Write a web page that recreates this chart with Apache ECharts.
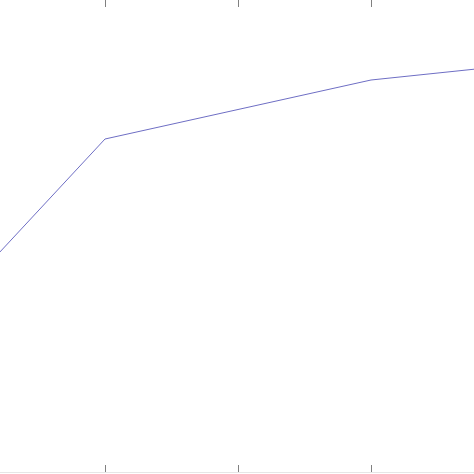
<!DOCTYPE html>
<html>
<head>
<meta charset="utf-8">
<style>html,body{margin:0;padding:0;background:#fff;}#c{width:474px;height:474px;}</style>
<script src="https://cdn.jsdelivr.net/npm/echarts@6/dist/echarts.min.js"></script>
</head>
<body>
<div id="c"></div>
<script>
var xValues = [0, 1, 2, 3, 4];
var yValues = [0.4025, 0.7055, 0.768, 0.8305, 0.860];
var tickValues = [1, 2, 3];
var chart = echarts.init(document.getElementById('c'), null, {renderer: 'canvas'});
var data = xValues.map(function (x, i) { return [x, yValues[i]]; });
var xMin = 0.2105, xMax = 3.7744;
function mkAxis(pos, lineShow) {
  return {type: 'value', position: pos, min: xMin, max: xMax,
    axisLine: {show: lineShow, lineStyle: {color: '#e6e6e6', width: 1}},
    axisTick: {show: true, inside: true, length: 7, customValues: tickValues,
               lineStyle: {color: '#808080', width: 1}},
    axisLabel: {show: false}, splitLine: {show: false}};
}
chart.setOption({
  animation: false,
  backgroundColor: '#ffffff',
  grid: {left: 0, right: 0, top: 0, bottom: 2, containLabel: false},
  xAxis: [mkAxis('bottom', true), mkAxis('top', false)],
  yAxis: {type: 'value', min: 0, max: 1, show: false},
  series: [{
    type: 'line', data: data, xAxisIndex: 0, showSymbol: false, symbol: 'none',
    lineStyle: {color: '#6e6ec4', width: 1}, clip: true
  }]
});
</script>
</body>
</html>
